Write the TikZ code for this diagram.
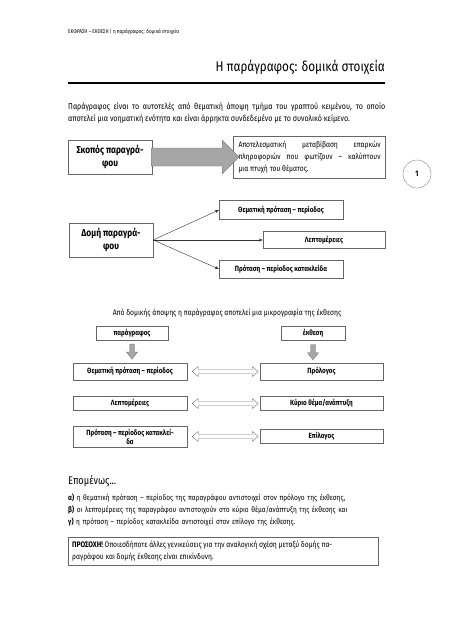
\documentclass[tikz,border=0pt]{standalone}
\usepackage{fontspec}
\setmainfont[FakeStretch=0.84]{Fira Sans}
\usetikzlibrary{calc,arrows.meta}

\begin{document}
\begin{tikzpicture}[x=1pt,y=-1pt]
  \tikzstyle{box} = [draw=black!60, fill=white, rectangle, inner sep=2pt, align=center, font={\fontsize{7.5}{9}\selectfont\bfseries}];
  \tikzstyle{bigBox} = [box, minimum width=84pt, minimum height=34pt, font={\fontsize{10}{13}\selectfont\bfseries}];
  \tikzstyle{textBlock} = [anchor=north west, inner sep=0pt, align=justify, font={\fontsize{8.5}{12}\selectfont}];
  \tikzstyle{branchEdge} = [black!80, thin, -{Stealth[length=4pt,width=3pt]}];
  \tikzstyle{greyArrow} = [draw=black!55, fill=black!35, line join=miter];
  \tikzstyle{hollowArrow} = [draw=black!55, fill=white, line join=miter];
  \useasboundingbox (0,0) rectangle (453,640);

  % header and title
  \node[anchor=west, inner sep=0pt, font={\fontsize{5.5}{6}\selectfont}, name=header] at (68,32) {ΕΚΦΡΑΣΗ – ΕΚΘΕΣΗ | η παράγραφος: δομικά στοιχεία};
  \node[anchor=base east, inner sep=0pt, font={\fontsize{14}{16}\selectfont}, name=title] at (385,71) {Η παράγραφος: δομικά στοιχεία};
  \draw[line width=2pt] (68,83) -- (385,83);
  \node[textBlock, text width=317pt, name=intro] at (68,102) {Παράγραφος είναι το αυτοτελές από θεματική άποψη τμήμα του γραπτού κειμένου, το οποίο αποτελεί μια νοηματική ενότητα και είναι άρρηκτα συνδεδεμένο με το συνολικό κείμενο.};

  % purpose
  \node[bigBox, name=skopos] at (110,157) {Σκοπός παραγρά-\\φου};
  \node[box, text width=142pt, inner sep=5pt, align=justify, font={\fontsize{8}{12}\selectfont}, name=apotel] at (309.5,157) {Αποτελεσματική μεταβίβαση επαρκών πληροφοριών που φωτίζουν – καλύπτουν\linebreak μια πτυχή του θέματος.};
  \draw[greyArrow] (skopos.east) ++(-1,-9) -- ++(71,0) -- ++(0,-8) -- ++(17,17) -- ++(-17,17) -- ++(0,-8) -- ++(-71,0) -- cycle;
  \node[circle, draw=black!50, minimum size=28pt, font={\fontsize{8}{9}\selectfont\bfseries}, name=pagenum] at (417,174) {1};

  % structure
  \node[bigBox, name=domi] at (111,240) {Δομή παραγρά-\\φου};
  \node[box, minimum width=124pt, minimum height=19pt, name=thematiki] at (281,210) {Θεματική πρόταση – περίοδος};
  \node[box, minimum width=122pt, minimum height=17pt, name=leptom] at (324,240) {Λεπτομέρειες};
  \node[box, minimum width=124pt, minimum height=18pt, name=katakl] at (281,269) {Πρόταση – περίοδος κατακλείδα};
  \draw (domi.east) edge[branchEdge] (thematiki.west);
  \draw (domi.east) edge[branchEdge] (leptom.west);
  \draw (domi.east) edge[branchEdge] (katakl.west);

  % paragraph and essay
  \node[inner sep=0pt, font={\fontsize{8}{10}\selectfont}, name=mikro] at (227,313) {Από δομικής άποψης η παράγραφος αποτελεί μια μικρογραφία της έκθεσης};
  \node[box, minimum width=72pt, minimum height=14pt, name=parag] at (132,333.5) {παράγραφος};
  \node[box, minimum width=64pt, minimum height=14pt, name=ekthesi] at (313,333.5) {έκθεση};
  \node[box, minimum width=114pt, minimum height=17pt, name=pthem] at (130,371.5) {Θεματική πρόταση – περίοδος};
  \node[box, minimum width=114pt, minimum height=14pt, name=plept] at (130,403.5) {Λεπτομέρειες};
  \node[box, minimum width=114pt, minimum height=21pt, name=pkatakl] at (130,436.5) {Πρόταση – περίοδος κατακλεί-\\δα};
  \node[box, minimum width=123pt, minimum height=17pt, name=prologos] at (321.5,371.5) {Πρόλογος};
  \node[box, minimum width=123pt, minimum height=14pt, name=kyrio] at (321.5,403.5) {Κύριο θέμα/ανάπτυξη};
  \node[box, minimum width=123pt, minimum height=14pt, name=epilogos] at (321.5,436.5) {Επίλογος};
  \draw[greyArrow] (129.5,344) -- (134.5,344) -- (134.5,352) -- (137.5,352) -- (132,359) -- (126.5,352) -- (129.5,352) -- cycle;
  \draw[greyArrow] (ekthesi.south) ++(-2.5,4) -- ++(5,0) -- ++(0,8) -- ++(3,0) -- ++(-5.5,7) -- ++(-5.5,-7) -- ++(3,0) -- cycle;
  \foreach \srcNode/\dstNode in {pthem/prologos, plept/kyrio, pkatakl/epilogos}
    \draw[hollowArrow] ($(\srcNode.east)+(5,0)$) -- ++(6,-5) -- ++(0,3) -- ++(54,0) -- ++(0,-3) -- ++(6,5) -- ++(-6,5) -- ++(0,-3) -- ++(-54,0) -- ++(0,3) -- cycle;

  % conclusions
  \node[anchor=base west, inner sep=0pt, font={\fontsize{11}{13}\selectfont}, name=epomenos] at (68,484) {Επομένως...};
  \node[textBlock, align=left, text width=320pt, font={\fontsize{7.75}{12}\selectfont}, name=antistoixia] at (68,494) {\textbf{α)} η θεματική πρόταση – περίοδος της παραγράφου αντιστοιχεί στον πρόλογο της έκθεσης,\\
    \textbf{β)} οι λεπτομέρειες της παραγράφου αντιστοιχούν στο κύριο θέμα/ανάπτυξη της έκθεσης και\\
    \textbf{γ)} η πρόταση – περίοδος κατακλείδα αντιστοιχεί στον επίλογο της έκθεσης.};
  \node[box, anchor=north west, text width=302pt, inner sep=4pt, align=justify, font={\fontsize{8}{12}\selectfont}, name=prosoxi] at (68,537) {\textbf{ΠΡΟΣΟΧΗ!} Οποιεσδήποτε άλλες γενικεύσεις για την αναλογική σχέση μεταξύ δομής πα-\\ραγράφου και δομής έκθεσης είναι επικίνδυνη.};
\end{tikzpicture}
\end{document}
